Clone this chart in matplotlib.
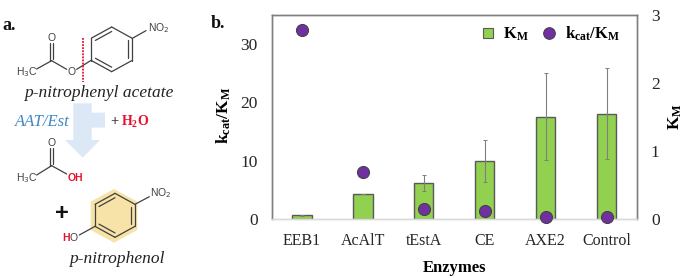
import numpy as np
import matplotlib
matplotlib.use("Agg")
import matplotlib.pyplot as plt
from matplotlib.lines import Line2D
from matplotlib.patches import Polygon

plt.rcParams['font.family'] = ['Liberation Serif', 'DejaVu Serif']
plt.rcParams['mathtext.fontset'] = 'custom'
plt.rcParams['mathtext.rm'] = 'Liberation Serif:bold'
plt.rcParams['mathtext.bf'] = 'Liberation Serif:bold'
plt.rcParams['mathtext.default'] = 'bf'

enzymes = ["EEB1", "AcAlT", "tEstA", "CE", "AXE2", "Control"]
km = [0.055, 0.37, 0.53, 0.857, 1.505, 1.55]
km_err = [0.005, 0.005, 0.113, 0.31, 0.64, 0.67]
kcat_km = [32.4, 8.0, 1.7, 1.3, 0.4, 0.3]

W, H = 685, 278
DARK = "#404040"
GREEN = "#92d050"
PURPLE = "#7030a0"
fig = plt.figure(figsize=(W/100, H/100), dpi=100)

# panel b
ax = fig.add_axes([271.5/W, 1-219/H, 365.5/W, 204/H])
ax2 = ax.twinx()
x = np.arange(len(enzymes))
ax2.bar(x, km, width=0.317, color=GREEN, edgecolor="#595959", linewidth=1)
ax2.errorbar(x, km, yerr=km_err, fmt="none", ecolor="#7f7f7f", elinewidth=0.8, capsize=1.5, capthick=0.7)
ax.scatter(x, kcat_km, s=76, color=PURPLE, edgecolor="#404040", linewidth=0.7, zorder=5, clip_on=False)
ax.set_zorder(ax2.get_zorder()+1)
ax.patch.set_visible(False)

ax.set_xlim(-0.5, 5.5)
ax.set_ylim(0, 35)
ax2.set_ylim(0, 3)
ax.set_yticks([0, 10, 20, 30])
ax2.set_yticks([0, 1, 2, 3])
ax.set_xticks(x)
ax.set_xticklabels(enzymes)
ax.tick_params(axis="x", length=0, labelsize=11.5, labelcolor="#262626", pad=10)
ax.tick_params(axis="y", length=0, labelsize=12.5, labelcolor="#262626", pad=10)
ax2.tick_params(axis="y", length=0, labelsize=12.5, labelcolor="#262626", pad=10)
for a in (ax, ax2):
    for side in ("left", "top", "right"):
        a.spines[side].set_color("#7f7f7f")
        a.spines[side].set_linewidth(1)
    a.spines["bottom"].set_color("#d9d9d9")
    a.spines["bottom"].set_linewidth(1)

ax.set_xlabel("Enzymes", fontsize=12, fontweight="bold", labelpad=8)
fig.text(224/W, 1-115/H, r"$k_{cat}/K_M$", rotation=90, fontsize=12.5, ha="center", va="center")
fig.text(675/W, 1-117/H, r"$K_M$", rotation=90, fontsize=12.5, ha="center", va="center")
km_handle = Line2D([], [], ls="none", marker="s", ms=7, mfc=GREEN, mec="#595959", mew=0.8)
ratio_handle = Line2D([], [], ls="none", marker="o", ms=8.4, mfc=PURPLE, mec="#404040", mew=0.7)
ax.legend([km_handle, ratio_handle], [r"$K_M$", r"$k_{cat}/K_M$"], ncol=2, frameon=False, fontsize=12,
          loc="upper right", bbox_to_anchor=(0.985, 1.01), handlelength=0.8,
          handletextpad=0.55, columnspacing=0.8, borderpad=0.2)

# panel a, scheme drawn in pixel coordinates of the zoomed picture (3x)
sch = fig.add_axes([0, 0, 1, 1], zorder=10)
sch.set_xlim(0, W*3)
sch.set_ylim(H*3, 0)
sch.axis("off")
sch.patch.set_visible(False)

def bond(x0, y0, x1, y1, c=DARK, lw=0.9):
    sch.plot([x0, x1], [y0, y1], color=c, lw=lw, solid_capstyle="round")

def ring(cx, cy, rx, ry):
    pts_ = [(cx, cy-ry), (cx+rx, cy-ry/2), (cx+rx, cy+ry/2), (cx, cy+ry), (cx-rx, cy+ry/2), (cx-rx, cy-ry/2)]
    for i in range(6):
        bond(*pts_[i], *pts_[(i+1) % 6])
    for i in (1, 3, 5):
        p = np.array(pts_[i]); q = np.array(pts_[(i+1) % 6])
        c0 = np.array([cx, cy])
        p2 = c0 + (p-c0)*0.8; q2 = c0 + (q-c0)*0.8
        bond(p2[0], p2[1], q2[0], q2[1])

def sans(xp, yp, s, size=7.5, c=DARK, ha="center", **kw):
    sch.text(xp, yp, s, fontsize=size, color=c, ha=ha, va="center", family="Liberation Sans", **kw)

sch.text(6, 76, "a.", fontsize=13, fontweight="bold", va="center", color="#111111")
fig.text(211/W, 1-24/H, "b.", fontsize=13, fontweight="bold", va="center", color="#111111")

# p-nitrophenyl acetate
ring(335, 148, 61, 67)
bond(397, 115, 438, 92)
sans(444, 85, r"NO$_{\mathrm{2}}$", ha="left", math_fontfamily="dejavusans")
bond(275, 180, 230, 208)
sans(215, 217, "O")
bond(155, 182, 200, 208)
bond(110, 207, 155, 182)
bond(151, 128, 151, 182); bond(159, 128, 159, 178)
sans(155, 113, "O")
sans(80, 217, r"H$_{\mathrm{3}}$C", math_fontfamily="dejavusans")
sch.plot([249, 249], [113, 245], color="#e8112d", lw=1.3, ls=(0, (1, 0.7)))
sch.text(296, 278, "p-nitrophenyl acetate", style="italic", fontsize=12.5, ha="center", va="center", color="#222222")

# enzyme arrow
sch.add_patch(Polygon([(220, 310), (275, 310), (275, 338), (315, 338), (315, 383), (275, 383), (275, 420),
                       (300, 420), (248, 473), (195, 420), (220, 420)], closed=True, fc="#dce8f5", ec="none"))
sch.text(128, 365, "AAT/Est", style="italic", fontsize=12, ha="center", va="center", color="#3c86c6")
sch.text(330, 365, "+", fontsize=10.5, fontweight="bold", va="center", color="#333333")
sch.text(362, 365, r"H$_2$O", fontsize=10, va="center", color="#e8112d", fontweight="bold")

# acetic acid
sans(155, 430, "O")
bond(151, 445, 151, 497); bond(159, 445, 159, 493)
bond(110, 525, 155, 497)
bond(155, 497, 200, 522)
sans(80, 535, r"H$_{\mathrm{3}}$C", math_fontfamily="dejavusans")
sans(225, 535, "OH", c="#e8112d", fontweight="bold")
sch.text(185, 640, "+", fontsize=17, fontweight="bold", ha="center", va="center", color="#111111", family="Liberation Sans")

# p-nitrophenol
sch.add_patch(Polygon([(342, 567), (412, 605), (412, 690), (342, 728), (272, 690), (272, 605)], closed=True,
                      fc="#f7e3a8", ec="none"))
ring(345, 646, 60, 66)
bond(405, 613, 448, 590)
sans(450, 580, r"NO$_{\mathrm{2}}$", ha="left", math_fontfamily="dejavusans")
bond(238, 705, 285, 679)
sans(199, 713, "H", c="#e8112d", fontweight="bold")
sans(222, 713, "O")
sch.text(349, 778, "p-nitrophenol", style="italic", fontsize=12.5, ha="center", va="center", color="#222222")

fig.savefig("out.png", dpi=100)
